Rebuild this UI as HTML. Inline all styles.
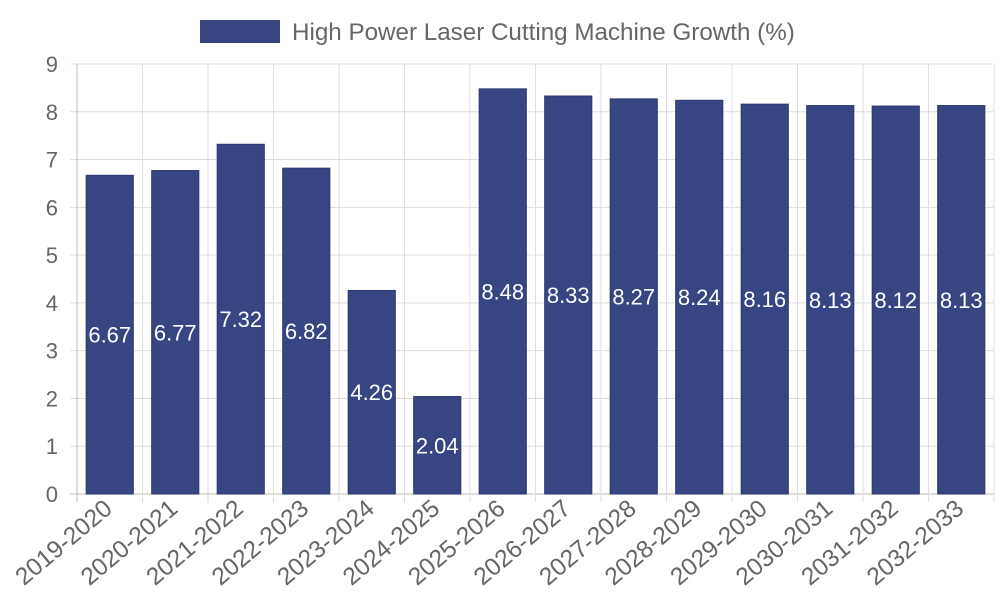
<!DOCTYPE html>
<html><head><meta charset="utf-8"><style>
body{margin:0;background:#fff;}
svg text{font-family:"Liberation Sans",sans-serif;}
</style></head><body>
<svg id="c" width="1000" height="600" xmlns="http://www.w3.org/2000/svg">
<g>
<rect x="200" y="20" width="80" height="23" fill="#374583"/>
<text x="292" y="40" font-size="24.2" fill="#666">High Power Laser Cutting Machine Growth (%)</text>
</g>
<g id="grid"></g><g id="bars"></g><g id="labels"></g>
</svg>
<script>
const categories=["2019-2020","2020-2021","2021-2022","2022-2023","2023-2024","2024-2025","2025-2026","2026-2027","2027-2028","2028-2029","2029-2030","2030-2031","2031-2032","2032-2033"];
const values=[6.67,6.77,7.32,6.82,4.26,2.04,8.48,8.33,8.27,8.24,8.16,8.13,8.12,8.13];
const yTicks=[0,1,2,3,4,5,6,7,8,9];
const NS="http://www.w3.org/2000/svg";
const L=77,R=994,T=64,B=494,yMax=9;
const y=v=>B-(v/yMax)*(B-T);
const bw=(R-L)/categories.length;
const x=i=>L+bw*i+bw/2;
function mk(tag,attrs,parent,txt){const e=document.createElementNS(NS,tag);for(const k in attrs)e.setAttribute(k,attrs[k]);if(txt!==undefined)e.textContent=txt;document.getElementById(parent).appendChild(e);return e;}
yTicks.forEach(t=>{
  const g=mk('line',{x1:70,x2:R,y1:y(t),y2:y(t),stroke:t===0?'#bbb':'#ddd','stroke-width':1},'grid');
  
  
  const tx=mk('text',{x:58,y:y(t)+8,'font-size':22,fill:'#666','text-anchor':'end'},'grid',t);
  
  
});
for(let i=0;i<=categories.length;i++){
  const gx=L+bw*i;
  const l=mk('line',{x1:gx,x2:gx,y1:T,y2:B+8,stroke:i===0?'#bbb':'#ddd','stroke-width':1},'grid');
  
  
}
categories.forEach((c,i)=>{
  const w=bw*0.72,v=values[i];
  const r=mk('rect',{x:x(i)-w/2,y:y(v),width:w,height:B-y(v),fill:'#374583',stroke:'#2c3870','stroke-width':1},'bars');
  
  
  const t=mk('text',{x:x(i),y:(y(v)+B)/2+8,'font-size':22,fill:'#fff','text-anchor':'middle'},'labels',v.toFixed(2));
  
  
  const ax=x(i)+4, ay=B+17;
  const xl=mk('text',{x:ax,y:ay,'font-size':24.5,fill:'#666','text-anchor':'end',transform:`rotate(-40 ${ax} ${ay})`},'labels',c);
  
  
});
</script>
</body></html>
